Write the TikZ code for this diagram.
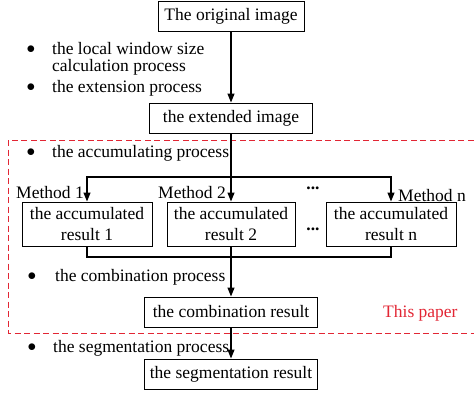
\documentclass[tikz,border=0pt]{standalone}
\usepackage{fontspec}
\setmainfont{Liberation Serif}
\definecolor{paperred}{RGB}{226,38,52}
\usetikzlibrary{arrows.meta,positioning}

\begin{document}
\begin{tikzpicture}[x=1pt,y=-1pt,
  stagebox/.style={draw,line width=1pt,minimum height=30pt,inner sep=2pt,
    align=center,font=\fontsize{17.5}{21}\selectfont},
  accbox/.style={stagebox,minimum height=44pt,minimum width=130pt},
  steptext/.style={anchor=west,align=left,inner sep=0pt,font=\fontsize{17.5}{17.5}\selectfont},
  dotmark/.style={inner sep=0pt,font=\fontsize{17.5}{17.5}\selectfont},
  flow/.style={line width=1.2pt,-{Triangle[width=7pt,length=9pt]}},
  link/.style={line width=1.2pt}
]
  \useasboundingbox (0,0) rectangle (474,408);
  % Pipeline boxes
  \node[stagebox,minimum width=146pt] (orig) at (231,16) {The original image};
  \node[stagebox,minimum width=163pt] (ext) at (231,118) {the extended image};
  \node[accbox] (acc1) at (87,224) {the accumulated\\result 1};
  \node[accbox,minimum width=128pt] (acc2) at (231,224) {the accumulated\\result 2};
  \node[accbox] (acc3) at (391,224) {the accumulated\\result n};
  \node[stagebox,minimum width=173pt] (comb) at (231,312) {the combination result};
  \node[stagebox,minimum width=173pt] (seg) at (231,374) {the segmentation result};
  % Process notes
  \node[dotmark] (b1) at (31,50) {$\bullet$};
  \node[steptext] (p1) at (52,59) {the local window size\\calculation process};
  \node[dotmark] (b2) at (31,88) {$\bullet$};
  \node[steptext] (p2) at (52,88) {the extension process};
  \node[dotmark] (b3) at (31,153) {$\bullet$};
  \node[steptext] (p3) at (52,153) {the accumulating process};
  \node[dotmark] (b4) at (32,277) {$\bullet$};
  \node[steptext] (p4) at (55,277) {the combination process};
  \node[dotmark] (b5) at (32,348) {$\bullet$};
  \node[steptext] (p5) at (53,348) {the segmentation process};
  % Methods
  \node[steptext,anchor=east] (m1) at (84,193) {Method 1};
  \node[steptext,anchor=east] (m2) at (226,193) {Method 2};
  \node[steptext] (mn) at (398,196) {Method n};
  \node[dotmark] (d1) at (313,188) {\textbf{...}};
  \node[dotmark] (d2) at (313,229) {\textbf{...}};
  % This paper
  \draw[paperred,line width=1pt,dash pattern=on 6pt off 3.5pt] (8,140) rectangle (480,333);
  \node[steptext,text=paperred] (paper) at (383,313) {This paper};
  % Connectors
  \coordinate (fork) at (231,177);
  \coordinate (merge) at (231,257);
  \draw[flow] (orig) -- (ext);
  \draw[flow] (ext) -- (acc2);
  \draw[flow] (fork) -| (acc1);
  \draw[flow] (fork) -| (acc3);
  \draw[link] (acc1) |- (merge);
  \draw[link] (acc3) |- (merge);
  \draw[flow] (acc2) -- (comb);
  \draw[flow] (comb) -- (seg);
\end{tikzpicture}
\end{document}
